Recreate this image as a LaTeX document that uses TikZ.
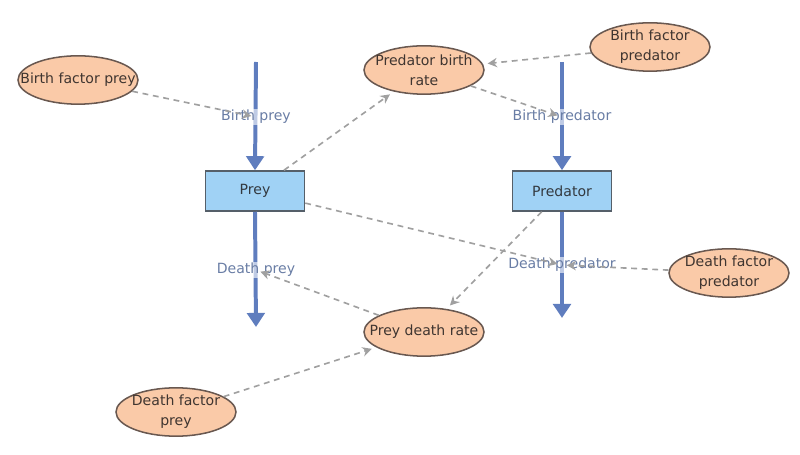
\documentclass[tikz,border=0pt]{standalone}
\usepackage{fontspec}
\setmainfont{DejaVu Sans}
\usetikzlibrary{arrows.meta,shapes.geometric}
\definecolor{auxFill}{RGB}{250,202,168}
\definecolor{auxLine}{RGB}{105,88,80}
\definecolor{stockFill}{RGB}{160,210,245}
\definecolor{stockLine}{RGB}{85,95,105}
\definecolor{flowBlue}{RGB}{95,125,190}
\definecolor{flowText}{RGB}{105,125,165}
\definecolor{linkGray}{RGB}{160,160,160}

\begin{document}
\begin{tikzpicture}[x=0.03cm,y=-0.03cm,
  font=\fontsize{12}{17}\selectfont,
  aux/.style={ellipse,draw=auxLine,line width=1.3pt,fill=auxFill,text=auxLine!60!black,
    minimum width=3.6cm,minimum height=1.45cm,inner xsep=-20pt,inner ysep=-6pt,align=center},
  stock/.style={rectangle,draw=stockLine,line width=1.3pt,fill=stockFill,text=stockLine!60!black,
    minimum width=2.97cm,minimum height=1.2cm},
  flow/.style={flowBlue,line width=3.4pt,-{Triangle[width=15pt,length=12pt]}},
  flowlabel/.style={text=flowText,fill=white,fill opacity=0.6,text opacity=1,inner sep=1pt},
  link/.style={linkGray,line width=1.4pt,dash pattern=on 5pt off 4pt,
    -{Stealth[length=8pt,width=8pt]},shorten >=4pt}]
  \useasboundingbox (0,0) rectangle (800,455);
  % stocks
  \node[stock] (prey) at (255,191) {Prey};
  \node[stock] (pred) at (562,191) {Predator};
  % auxiliaries
  \node[aux] (bfPrey) at (78,80) {Birth factor prey};
  \node[aux] (pbRate) at (424,70) {Predator birth\\rate};
  \node[aux] (bfPred) at (650,47) {Birth factor\\predator};
  \node[aux] (dfPred) at (729,273) {Death factor\\predator};
  \node[aux] (pdRate) at (424,332) {Prey death rate};
  \node[aux] (dfPrey) at (176,412) {Death factor\\prey};
  % flow ends and valves
  \coordinate (preySrc) at (256,62);
  \coordinate (preySink) at (256,327);
  \coordinate (predSrc) at (562,62);
  \coordinate (predSink) at (562,318);
  \coordinate (birthPrey) at (256,117);
  \coordinate (deathPrey) at (256,270);
  \coordinate (birthPred) at (562,117);
  \coordinate (deathPred) at (562,265);
  % flows
  \draw[flow] (preySrc) -- (prey.north);
  \draw[flow] (prey.south) -- (preySink);
  \draw[flow] (predSrc) -- (pred.north);
  \draw[flow] (pred.south) -- (predSink);
  \node[flowlabel] at (birthPrey) {Birth prey};
  \node[flowlabel] at (deathPrey) {Death prey};
  \node[flowlabel] at (birthPred) {Birth predator};
  \node[flowlabel] at (deathPred) {Death predator};
  % links
  \draw[link] (bfPrey) -- (birthPrey);
  \draw[link] (prey) -- (pbRate);
  \draw[link] (bfPred) -- (pbRate);
  \draw[link] (pbRate) -- (birthPred);
  \draw[link] (prey) -- (deathPred);
  \draw[link] (dfPred) -- (deathPred);
  \draw[link] (pred) -- (pdRate);
  \draw[link] (pdRate) -- (deathPrey);
  \draw[link] (dfPrey) -- (pdRate);
\end{tikzpicture}
\end{document}
